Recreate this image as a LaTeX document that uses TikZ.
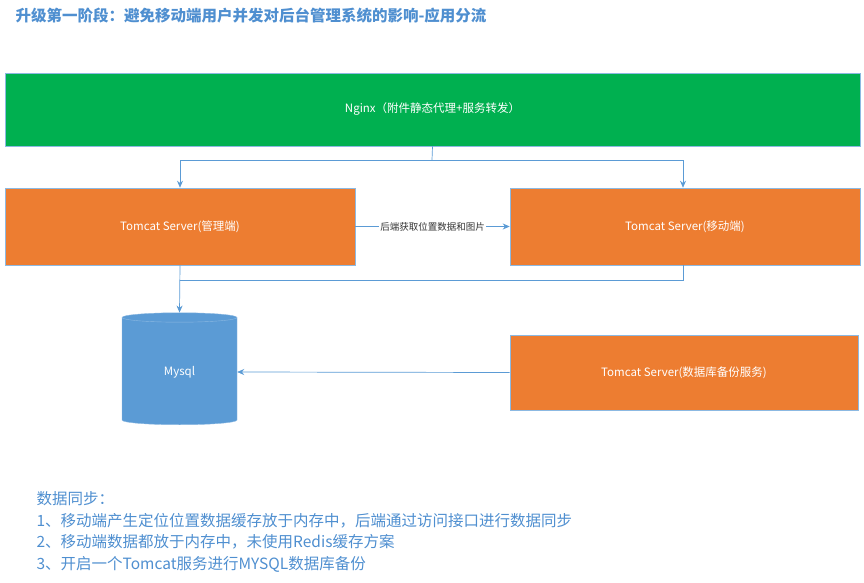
\documentclass[tikz,border=0pt]{standalone}
\usepackage{fontspec}
\setmainfont{Noto Sans CJK SC}
\usetikzlibrary{shapes.geometric,arrows.meta}
\definecolor{grn}{HTML}{00B050}
\definecolor{org}{HTML}{ED7D31}
\definecolor{blu}{HTML}{5B9BD5}
\definecolor{ttl}{HTML}{4F8FD0}
\tikzset{
 box/.style={draw=blu!70!white,line width=0.6pt,text=white,font=\fontsize{11.5}{13}\selectfont,inner sep=0pt},
 ln/.style={draw=blu,line width=0.7pt},
 arr/.style={ln,-{Stealth[length=7pt,width=6pt]}},
}
\begin{document}
\begin{tikzpicture}[x=1pt,y=-1pt]
\useasboundingbox (0,0) rectangle (864,583);
\node[anchor=west,text=ttl,font=\bfseries\fontsize{15.5}{17}\selectfont] (t) at (12,16) {升级第一阶段：避免移动端用户并发对后台管理系统的影响-应用分流};
\node[box,fill=grn,minimum width=855pt,minimum height=73pt] (ng) at (432.5,109.5) {Nginx（附件静态代理+服务转发）};
\node[box,fill=org,minimum width=350pt,minimum height=77pt] (a) at (180,226.5) {Tomcat Server(管理端)};
\node[box,fill=org,minimum width=350pt,minimum height=77pt] (b) at (685,226.5) {Tomcat Server(移动端)};
\node[box,fill=org,minimum width=348pt,minimum height=75pt] (c) at (684,372.5) {Tomcat Server(数据库备份服务)};
\node[cylinder,shape border rotate=90,aspect=0.25,draw=blu!70!white,fill=blu,text=white,minimum width=115pt,minimum height=112pt,font=\fontsize{11.5}{13}\selectfont] (m) at (179.5,372) {Mysql};
\coordinate (j) at (432,160);
\draw[ln] (ng.south) -- (j);
\draw[arr] (j) -| (a.north);
\draw[arr] (j) -| (b.north -| 683,0);
\draw[arr] (a.east) -- node[fill=white,text=black!80,font=\fontsize{9.5}{11}\selectfont,inner sep=1pt]{后端获取位置数据和图片} (b.west);
\draw[arr] (a.south) -- (m.north);
\coordinate (k) at (180,280);
\draw[ln] (683,265) |- (k);
\draw[arr] (c.west) -- (m.east);
\node[anchor=north west,text=ttl,font=\fontsize{15.5}{21.5}\selectfont,align=left] (n) at (33,488) {数据同步：\\1、移动端产生定位位置数据缓存放于内存中，后端通过访问接口进行数据同步\\2、移动端数据都放于内存中，未使用Redis缓存方案\\3、开启一个Tomcat服务进行MYSQL数据库备份};
\end{tikzpicture}
\end{document}
